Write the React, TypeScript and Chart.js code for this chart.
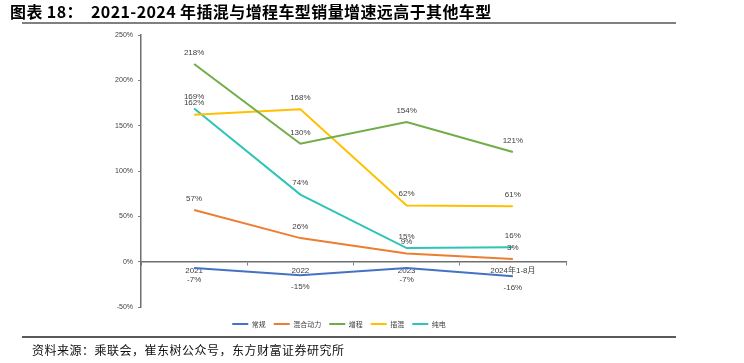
import React, { useEffect, useRef } from "react";
import { Chart, registerables } from "chart.js";

Chart.register(...registerables);

const categories = ["2021", "2022", "2023", "2024年1-8月"];
const seriesNames = ["常规", "混合动力", "增程", "插混", "纯电"];
const regular = [-7, -15, -7, -16];
const hybrid = [57, 26, 9, 3];
const erev = [218, 130, 154, 121];
const phev = [162, 168, 62, 61];
const bev = [169, 74, 15, 16];
const seriesColors = ["#4472C4", "#ED7D31", "#70AD47", "#FFC000", "#2EC4B6"];
const yTicks = [-50, 0, 50, 100, 150, 200, 250];

const TITLE = "图表 18：  2021-2024 年插混与增程车型销量增速远高于其他车型";
const SOURCE = "资料来源：乘联会，崔东树公众号，东方财富证券研究所";

const labelPlugin = {
  id: "valueLabels",
  afterDatasetsDraw(chart: any) {
    const ctx = chart.ctx;
    ctx.save();
    ctx.font = "8px 'Liberation Sans', Arial, sans-serif";
    ctx.fillStyle = "#404040";
    ctx.textAlign = "center";
    ctx.textBaseline = "middle";
    chart.data.datasets.forEach((ds: any, i: number) => {
      const meta = chart.getDatasetMeta(i);
      meta.data.forEach((pt: any, j: number) => {
        const v = ds.data[j];
        const below = i === 0;
        ctx.fillText(v + "%", pt.x, below ? pt.y + 12 : pt.y - 11.5);
      });
    });
    ctx.restore();
  },
};

const legendPlugin = {
  id: "customLegend",
  afterDraw(chart: any) {
    const ctx = chart.ctx;
    ctx.save();
    ctx.font = "7px 'Noto Sans CJK SC', sans-serif";
    const lineW = 16;
    const gap = 3.5;
    const spacing = 8;
    const items = chart.data.datasets.map((ds: any) => ({
      label: ds.label,
      color: ds.borderColor,
      w: lineW + gap + ctx.measureText(ds.label).width,
    }));
    const total = items.reduce((s: number, it: any) => s + it.w, 0) + spacing * (items.length - 1);
    let x = 339 - total / 2;
    const y = 324;
    items.forEach((it: any) => {
      ctx.strokeStyle = it.color;
      ctx.lineWidth = 2;
      ctx.beginPath();
      ctx.moveTo(x, y);
      ctx.lineTo(x + lineW, y);
      ctx.stroke();
      ctx.fillStyle = "#404040";
      ctx.textBaseline = "middle";
      ctx.textAlign = "left";
      ctx.fillText(it.label, x + lineW + gap, y);
      x += it.w + spacing;
    });
    ctx.restore();
  },
};

export default function App() {
  const ref = useRef<HTMLCanvasElement | null>(null);
  useEffect(() => {
    if (!ref.current) return;
    const values = [regular, hybrid, erev, phev, bev];
    const chart = new Chart(ref.current, {
      type: "line",
      data: {
        labels: categories,
        datasets: values.map((d, i) => ({
          label: seriesNames[i],
          data: d,
          borderColor: seriesColors[i],
          backgroundColor: seriesColors[i],
          borderWidth: 2,
          pointRadius: 0,
          tension: 0,
          fill: false,
        })),
      },
      options: {
        animation: false,
        responsive: true,
        maintainAspectRatio: false,
        layout: { padding: { left: 0, right: 178, top: 35, bottom: 56 } },
        plugins: { legend: { display: false }, tooltip: { enabled: false } },
        scales: {
          x: {
            type: "category",
            position: { y: 0 },
            offset: true,
            grid: {
              offset: true,
              drawOnChartArea: false,
              drawTicks: true,
              tickLength: 3,
              color: "#7f7f7f",
            },
            border: { display: true, color: "#6f6f6f", width: 1.5 },
            ticks: {
              font: { size: 8, family: "'Liberation Sans', Arial, 'Noto Sans CJK SC', sans-serif" },
              color: "#404040",
              padding: 1,
              maxRotation: 0,
              autoSkip: false,
            },
          },
          y: {
            min: -50,
            max: 250,
            afterFit: (s: any) => {
              s.width = 141;
            },
            afterBuildTicks: (s: any) => {
              s.ticks = yTicks.map((v) => ({ value: v }));
            },
            grid: {
              drawOnChartArea: false,
              drawTicks: true,
              tickLength: 3,
              color: "#7f7f7f",
            },
            border: { display: true, color: "#6f6f6f", width: 1.5 },
            ticks: {
              font: { size: 7, family: "'Liberation Sans', Arial, sans-serif" },
              color: "#404040",
              padding: 5,
              callback: (v: any) => v + "%",
            },
          },
        },
      },
      plugins: [labelPlugin, legendPlugin],
    });
    return () => chart.destroy();
  }, []);

  return (
    <div style={{ position: "absolute", left: 0, top: 0, width: 744, height: 363, background: "#fff" }}>
      <div style={{ position: "absolute", left: 0, top: 0, width: 744, height: 363 }}>
        <canvas ref={ref} />
      </div>
      <div
        style={{
          position: "absolute",
          left: 10,
          top: 1,
          fontFamily: "'Noto Sans CJK SC', sans-serif",
          fontWeight: 700,
          fontSize: 16,
          lineHeight: "20px",
          color: "#000",
          whiteSpace: "pre",
          letterSpacing: 0.4,
        }}
      >
        {TITLE}
      </div>
      <div style={{ position: "absolute", left: 22, top: 22, width: 654, height: 2, background: "#808080" }} />
      <div style={{ position: "absolute", left: 22, top: 336, width: 654, height: 2, background: "#5a5a5a" }} />
      <div
        style={{
          position: "absolute",
          left: 32,
          top: 342,
          fontFamily: "'Noto Sans CJK SC', sans-serif",
          fontSize: 12,
          lineHeight: "16px",
          color: "#111",
          whiteSpace: "pre",
          letterSpacing: 0.5,
        }}
      >
        {SOURCE}
      </div>
    </div>
  );
}
